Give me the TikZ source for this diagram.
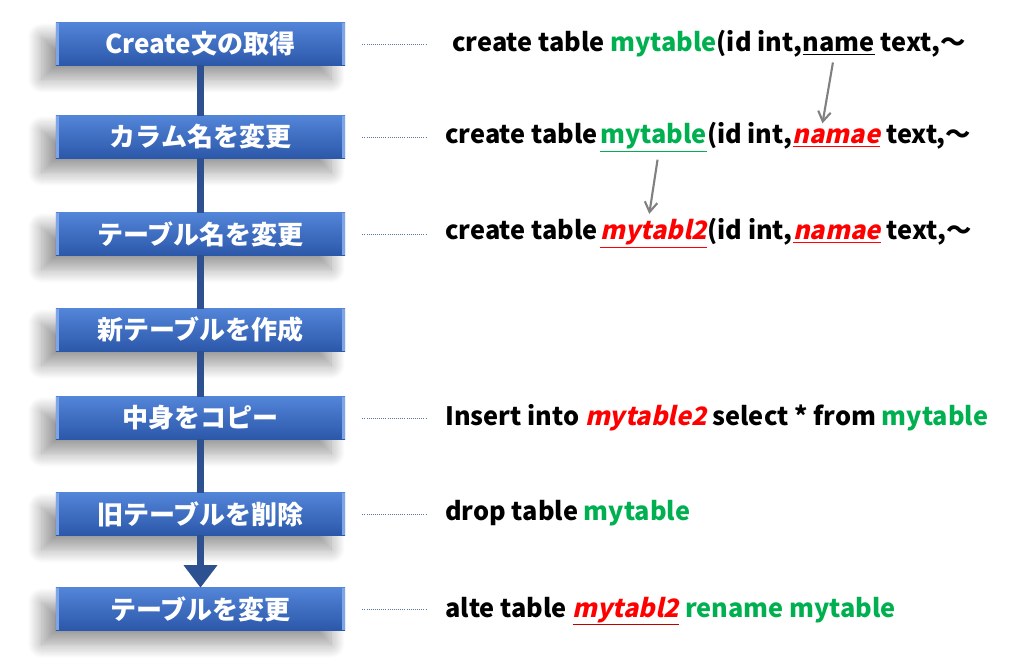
\documentclass[tikz,border=0pt]{standalone}
\usepackage{fontspec}
\setmainfont{Noto Sans CJK JP}
\newfontfamily\slfont{Noto Sans CJK JP}[FakeSlant=0.22]
\usetikzlibrary{positioning,arrows.meta,shadows.blur}

\definecolor{boxtop}{RGB}{82,132,216}
\definecolor{boxbot}{RGB}{44,88,170}
\definecolor{boxedge}{RGB}{125,165,232}
\definecolor{spineblue}{RGB}{44,80,144}
\definecolor{sqlgreen}{RGB}{0,176,80}
\definecolor{sqlred}{RGB}{255,0,0}
\definecolor{sqldark}{RGB}{192,0,0}
\definecolor{dotblue}{RGB}{90,120,160}
\definecolor{hintgray}{RGB}{128,128,128}

\newcommand{\gr}[1]{\textcolor{sqlgreen}{#1}}
\newcommand{\rd}[1]{\textcolor{sqlred}{\slfont\bfseries #1}}
\newcommand{\rdu}[1]{\textcolor{sqlred}{\underline{\slfont\bfseries #1}}}

\tikzset{
    stepbox/.style={rectangle, minimum width=7.23cm, minimum height=1.05cm,
        top color=boxtop, bottom color=boxbot, text=white,
        font=\fontsize{18.5}{20}\selectfont\bfseries,
        blur shadow={shadow xshift=-10pt, shadow yshift=-10pt,
            shadow blur radius=10pt, shadow blur steps=14, shadow opacity=40},
        path picture={
            \fill[boxedge] (path picture bounding box.north west)
                rectangle ([xshift=2.5pt]path picture bounding box.south west);
            \fill[boxedge] (path picture bounding box.north east)
                rectangle ([xshift=-2.5pt]path picture bounding box.south east);
        }},
    seg/.style={inner sep=0pt, anchor=base west,
        font=\fontsize{18}{20}\selectfont\bfseries},
    spineline/.style={line width=5pt, spineblue},
    dotlink/.style={dotblue, densely dotted, line width=0.5pt},
    hint/.style={hintgray, line width=1.5pt, -{Straight Barb[length=7pt,width=9pt]}}
}

\begin{document}
\begin{tikzpicture}[x=0.025cm, y=-0.025cm]
    \useasboundingbox (0,0) rectangle (1014,668);

    % steps on the left
    \foreach \n/\y/\txt in {1/44/Create文の取得, 2/137/カラム名を変更,
        3/234/テーブル名を変更, 4/330/新テーブルを作成, 5/418/中身をコピー,
        6/514/旧テーブルを削除, 7/609/テーブルを変更}
    {
        \node[stepbox] (b\n) at (200.5, \y) {\txt};
    }

    % spine
    \foreach \i/\j in {1/2, 2/3, 3/4, 4/5, 5/6}
        \draw[spineline] (b\i.south) -- (b\j.north);
    \draw[spineline, -{Triangle[width=23pt,length=16pt]}] (b6.south) -- (b7.north);

    % sql on the right
    \node[seg] (l1a) at (452, 52) {create table \gr{mytable}(id int,};
    \node[seg] (l1n) at (l1a.base east) {\underline{name}};
    \node[seg] (l1c) at (l1n.base east) {\ text,～};

    \node[seg] (l2a) at (445, 144) {create table};
    \node[seg] (l2s) at (l2a.base east) {\ };
    \node[seg] (l2m) at (l2s.base east) {\gr{\underline{mytable}}};
    \node[seg] (l2b) at (l2m.base east) {(id int,};
    \node[seg] (l2n) at (l2b.base east) {\rdu{namae}};
    \node[seg] (l2c) at (l2n.base east) {\ text,～};

    \node[seg] (l3a) at (445, 240) {create table};
    \node[seg] (l3s) at (l3a.base east) {\ };
    \node[seg] (l3m) at (l3s.base east) {\rdu{mytabl2}};
    \node[seg] (l3b) at (l3m.base east) {(id int,};
    \node[seg] (l3n) at (l3b.base east) {\rdu{namae}};
    \node[seg] (l3c) at (l3n.base east) {\ text,～};

    \node[seg] (l5a) at (445, 426) {Insert into \rd{mytable2} select * from \gr{mytable}};
    \node[seg] (l6a) at (445, 521) {drop table \gr{mytable}};
    \node[seg] (l7a) at (445, 617) {alte table \textcolor{sqldark}{\underline{\textcolor{sqlred}{\slfont\bfseries mytabl2}}} \gr{rename mytable}};

    % dotted links
    \foreach \n/\t in {2/l2a, 3/l3a, 5/l5a, 6/l6a, 7/l7a}
        \draw[dotlink] ([xshift=12pt]b\n.east) -- ([xshift=-13pt]b\n.east -| \t.west);
    \draw[dotlink] ([xshift=12pt]b1.east) -- ([xshift=-18pt]b1.east -| l1a.west);

    % renames
    \draw[hint] ([xshift=-4pt,yshift=-5pt]l1n.south) -- ([xshift=-10pt,yshift=4pt]l2n.north);
    \draw[hint] ([xshift=3pt,yshift=-5pt]l2m.south) -- ([xshift=-3pt,yshift=4pt]l3m.north);
\end{tikzpicture}
\end{document}
